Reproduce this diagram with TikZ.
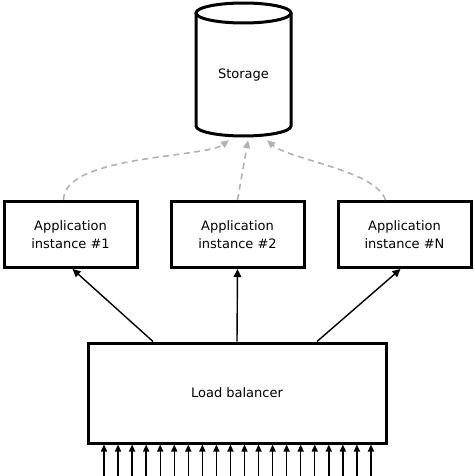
\documentclass[tikz,border=0pt]{standalone}
\usepackage{fontspec}
\setmainfont{DejaVu Sans}
\usetikzlibrary{arrows.meta,calc}
\begin{document}
\begin{tikzpicture}[x=1pt,y=-1pt,
  box/.style={draw=black,line width=3pt,minimum width=133pt,minimum height=66pt,align=center,font=\fontsize{13}{17.5}\selectfont},
  solidarr/.style={-{Triangle[length=8pt,width=7.5pt]},line width=1.4pt},
  dasharr/.style={-{Triangle[length=8pt,width=7pt]},line width=1.6pt,draw=gray!60,dash pattern=on 6pt off 4.5pt},
  inarr/.style={-{Triangle[length=7pt,width=6pt]},line width=1.4pt}]
\useasboundingbox (0,0) rectangle (474,476);
% storage cylinder
\draw[line width=3pt,fill=white] (196,13) -- (196,126) arc[start angle=180,end angle=360,x radius=47.5pt,y radius=10pt] -- (291,13);
\draw[line width=3pt] (243.5,13) ellipse[x radius=47.5pt,y radius=10pt];
\node[minimum width=95pt,minimum height=125pt,inner sep=0pt,font=\fontsize{13}{17}\selectfont] (storage) at (243.5,75.5) {Storage};
% app instances
\node[box] (app1) at (70.5,234.5) {Application\\instance \#1};
\node[box] (app2) at (237.5,234.5) {Application\\instance \#2};
\node[box] (appN) at (404.5,234.5) {Application\\instance \#N};
% load balancer
\node[box,minimum width=298pt,minimum height=100pt] (lb) at (237,393) {Load balancer};
% dashed arrows
\coordinate (t1) at ([xshift=-14.5pt,yshift=-2pt]storage.south);
\coordinate (t2) at ([xshift=4.5pt,yshift=-2pt]storage.south);
\coordinate (t3) at ([xshift=23.5pt,yshift=-2pt]storage.south);
\draw[dasharr] ([xshift=-7pt]app1.north) .. controls +(0,-45) and (205,158) .. (t1);
\draw[dasharr] (app2.north) -- (t2);
\draw[dasharr] ([xshift=-19pt]appN.north) .. controls +(-10,-30) and (290,160) .. (t3);
% solid arrows
\draw[solidarr] ([xshift=-84pt]lb.north) -- ([xshift=2pt]app1.south);
\draw[solidarr] (lb.north) -- (app2.south);
\draw[solidarr] ([xshift=80pt]lb.north) -- ([xshift=-4pt]appN.south);
% incoming arrows
\foreach \i in {0,...,19} {
  \coordinate (in\i) at ({104+\i*14.05},476);
  \draw[inarr] (in\i) -- (in\i |- lb.south);
}
\end{tikzpicture}
\end{document}
